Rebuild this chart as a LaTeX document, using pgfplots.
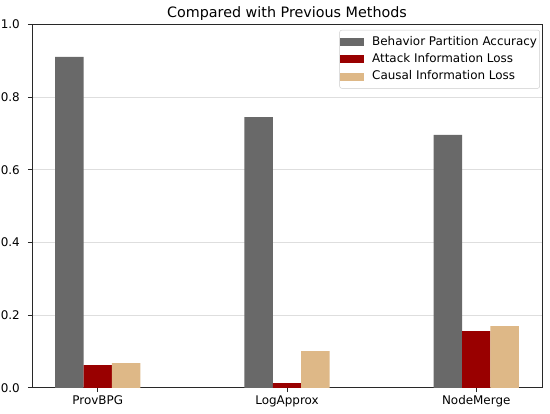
\documentclass[border=0pt]{standalone}
\usepackage{fontspec}
\setmainfont{DejaVu Sans}
\usepackage{pgfplots}
\pgfplotsset{compat=1.18}
\definecolor{cgray}{RGB}{105,105,105}
\definecolor{cred}{RGB}{153,0,0}
\definecolor{ctan}{RGB}{222,184,135}
\definecolor{spine}{RGB}{40,40,40}
\begin{document}
\begin{tikzpicture}
\begin{axis}[
  scale only axis,
  width=427.3pt, height=304.5pt,
  xmin=-0.3475, xmax=2.3475, ymin=0, ymax=1,
  xtick={0,1,2}, xticklabels={ProvBPG,LogApprox,NodeMerge},
  ytick={0,0.2,0.4,0.6,0.8,1},
  /pgf/number format/fixed, /pgf/number format/fixed zerofill, /pgf/number format/precision=1, /pgf/number format/assume math mode=true,
  xtick pos=left, ytick pos=left,
  tick align=outside, major tick length=3.5pt,
  axis line style={spine, line width=0.8pt},
  tick style={spine, line width=0.8pt},
  ymajorgrids, grid style={black!13, line width=0.8pt},
  ticklabel style={font=\fontsize{10}{12}\selectfont, inner sep=0pt},
  xticklabel style={yshift=-2.8pt},
  yticklabel style={xshift=-6.5pt},
  title={Compared with Previous Methods},
  title style={at={(0.5,1)}, anchor=base, yshift=-0.5pt, font=\fontsize{12}{14}\selectfont, inner sep=0pt},
  legend style={at={(1,1)}, anchor=north east, xshift=-1.7pt, yshift=-4.5pt,
    draw=black!20, rounded corners=2pt, fill=white, fill opacity=0.8, text opacity=1,
    font=\fontsize{10}{12}\selectfont, inner xsep=0.3pt, inner ysep=3.1pt, row sep=1.1pt,
    nodes={text height=7.5pt, text depth=2pt},
    /tikz/every odd column/.append style={column sep=5pt}},
  legend cell align=left,
  legend image code/.code={\path[#1, draw=none, fill opacity=1, sharp corners] (1pt,-3.5pt) rectangle (21pt,3.5pt);},
  bar width=0.15,
]
\addplot[ybar, fill=cgray, draw=none, bar shift=-0.15] coordinates {(0,0.911) (1,0.745) (2,0.696)};
\addplot[ybar, fill=cred, draw=none, bar shift=0] coordinates {(0,0.063) (1,0.013) (2,0.156)};
\addplot[ybar, fill=ctan, draw=none, bar shift=0.15] coordinates {(0,0.068) (1,0.101) (2,0.170)};
\legend{Behavior Partition Accuracy, Attack Information Loss, Causal Information Loss}
\end{axis}
\pgfresetboundingbox
\path[use as bounding box] ([xshift=-26.8pt,yshift=-21.8pt]current axis.south west) rectangle ([xshift=6.7pt,yshift=20.5pt]current axis.north east);
\end{tikzpicture}
\end{document}
